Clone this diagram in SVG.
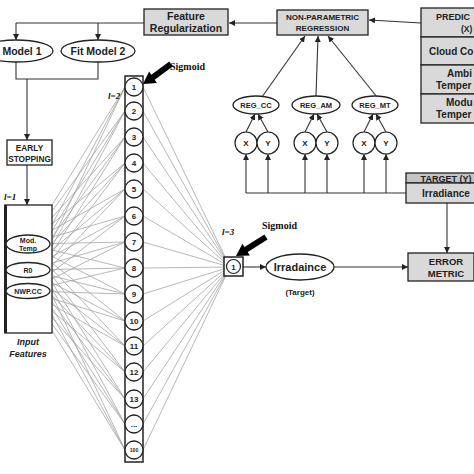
<svg xmlns="http://www.w3.org/2000/svg" width="474" height="474" viewBox="0 0 474 474">
<style>
.t{font-family:"Liberation Sans",Arial,sans-serif;font-weight:bold;fill:#222;text-anchor:middle}
.ts{font-family:"Liberation Sans",Arial,sans-serif;font-weight:bold;fill:#222;text-anchor:start}
.s{font-family:"Liberation Serif","Times New Roman",serif;font-weight:bold;fill:#111}
.box{fill:#d9d9d9;stroke:#222;stroke-width:1.3}
.wbox{fill:#fff;stroke:#222;stroke-width:1.3}
.el{fill:#fff;stroke:#222;stroke-width:1.3}
.c{fill:none;stroke:#333;stroke-width:1.1}
.ca{fill:none;stroke:#333;stroke-width:1.1;marker-end:url(#ah)}
.e{stroke:#a0a0a0;stroke-width:0.75}
</style>
<defs>
<marker id="ah" markerUnits="userSpaceOnUse" markerWidth="7" markerHeight="7" refX="6" refY="3" orient="auto">
<path d="M0,0 L6,3 L0,6 z" fill="#222"/>
</marker>
</defs>
<rect width="474" height="474" fill="#fff"/>

<g id="nn-edges">
<line class="e" x1="28" y1="244" x2="125" y2="87"/><line class="e" x1="28" y1="244" x2="125" y2="111"/><line class="e" x1="28" y1="244" x2="125" y2="137"/><line class="e" x1="28" y1="244" x2="125" y2="163"/><line class="e" x1="28" y1="244" x2="125" y2="189"/><line class="e" x1="28" y1="244" x2="125" y2="216"/><line class="e" x1="28" y1="244" x2="125" y2="242"/><line class="e" x1="28" y1="244" x2="125" y2="268"/><line class="e" x1="28" y1="244" x2="125" y2="294"/><line class="e" x1="28" y1="244" x2="125" y2="321"/><line class="e" x1="28" y1="244" x2="125" y2="346"/><line class="e" x1="28" y1="244" x2="125" y2="372"/><line class="e" x1="28" y1="244" x2="125" y2="399"/><line class="e" x1="28" y1="244" x2="125" y2="424"/><line class="e" x1="28" y1="244" x2="125" y2="450"/>
<line class="e" x1="28" y1="270" x2="125" y2="87"/><line class="e" x1="28" y1="270" x2="125" y2="111"/><line class="e" x1="28" y1="270" x2="125" y2="137"/><line class="e" x1="28" y1="270" x2="125" y2="163"/><line class="e" x1="28" y1="270" x2="125" y2="189"/><line class="e" x1="28" y1="270" x2="125" y2="216"/><line class="e" x1="28" y1="270" x2="125" y2="242"/><line class="e" x1="28" y1="270" x2="125" y2="268"/><line class="e" x1="28" y1="270" x2="125" y2="294"/><line class="e" x1="28" y1="270" x2="125" y2="321"/><line class="e" x1="28" y1="270" x2="125" y2="346"/><line class="e" x1="28" y1="270" x2="125" y2="372"/><line class="e" x1="28" y1="270" x2="125" y2="399"/><line class="e" x1="28" y1="270" x2="125" y2="424"/><line class="e" x1="28" y1="270" x2="125" y2="450"/>
<line class="e" x1="28" y1="291" x2="125" y2="87"/><line class="e" x1="28" y1="291" x2="125" y2="111"/><line class="e" x1="28" y1="291" x2="125" y2="137"/><line class="e" x1="28" y1="291" x2="125" y2="163"/><line class="e" x1="28" y1="291" x2="125" y2="189"/><line class="e" x1="28" y1="291" x2="125" y2="216"/><line class="e" x1="28" y1="291" x2="125" y2="242"/><line class="e" x1="28" y1="291" x2="125" y2="268"/><line class="e" x1="28" y1="291" x2="125" y2="294"/><line class="e" x1="28" y1="291" x2="125" y2="321"/><line class="e" x1="28" y1="291" x2="125" y2="346"/><line class="e" x1="28" y1="291" x2="125" y2="372"/><line class="e" x1="28" y1="291" x2="125" y2="399"/><line class="e" x1="28" y1="291" x2="125" y2="424"/><line class="e" x1="28" y1="291" x2="125" y2="450"/>
<line class="e" x1="143" y1="87" x2="230" y2="267"/><line class="e" x1="143" y1="111" x2="230" y2="267"/><line class="e" x1="143" y1="137" x2="230" y2="267"/><line class="e" x1="143" y1="163" x2="230" y2="267"/><line class="e" x1="143" y1="189" x2="230" y2="267"/><line class="e" x1="143" y1="216" x2="230" y2="267"/><line class="e" x1="143" y1="242" x2="230" y2="267"/><line class="e" x1="143" y1="268" x2="230" y2="267"/><line class="e" x1="143" y1="294" x2="230" y2="267"/><line class="e" x1="143" y1="321" x2="230" y2="267"/><line class="e" x1="143" y1="346" x2="230" y2="267"/><line class="e" x1="143" y1="372" x2="230" y2="267"/><line class="e" x1="143" y1="399" x2="230" y2="267"/><line class="e" x1="143" y1="424" x2="230" y2="267"/><line class="e" x1="143" y1="450" x2="230" y2="267"/>
</g>

<g id="connectors">
<polyline class="c" points="144,23 16,23"/>
<line class="ca" x1="16" y1="23" x2="16" y2="40"/>
<line class="ca" x1="98" y1="23" x2="98" y2="40"/>
<polyline class="c" points="16,62 16,79 98,79 98,62"/>
<line class="ca" x1="27" y1="79" x2="27" y2="140"/>
<line class="ca" x1="27" y1="165" x2="27" y2="205"/>
<line class="ca" x1="277" y1="23" x2="229" y2="23"/>
<line class="ca" x1="421" y1="23" x2="369" y2="20"/>
<line class="ca" x1="262" y1="97" x2="305" y2="36"/>
<line class="ca" x1="316" y1="96" x2="318" y2="36"/>
<line class="ca" x1="377" y1="97" x2="328" y2="36"/>
<line class="ca" x1="246" y1="132" x2="255" y2="114"/>
<line class="ca" x1="268" y1="132" x2="258" y2="114"/>
<line class="ca" x1="305" y1="132" x2="314" y2="114"/>
<line class="ca" x1="327" y1="132" x2="317" y2="114"/>
<line class="ca" x1="364" y1="132" x2="373" y2="114"/>
<line class="ca" x1="386" y1="132" x2="376" y2="114"/>
<polyline class="c" points="406,193 246,193"/>
<line class="ca" x1="246" y1="193" x2="246" y2="154"/>
<line class="ca" x1="268" y1="193" x2="268" y2="154"/>
<line class="ca" x1="305" y1="193" x2="305" y2="154"/>
<line class="ca" x1="327" y1="193" x2="327" y2="154"/>
<line class="ca" x1="364" y1="193" x2="364" y2="154"/>
<line class="ca" x1="386" y1="193" x2="386" y2="154"/>
<line class="ca" x1="447" y1="203" x2="447" y2="253"/>
<line class="ca" x1="243" y1="267" x2="266" y2="267"/>
<line class="ca" x1="334" y1="267" x2="408" y2="267"/>
</g>

<g id="feature-regularization">
<rect class="box" x="144" y="9" width="84" height="26"/>
<text class="t" x="186" y="20" font-size="10.5">Feature</text>
<text class="t" x="186" y="32" font-size="10.5">Regularization</text>
</g>
<g id="model1">
<ellipse class="el" cx="16" cy="51" rx="37" ry="11"/>
<text class="t" x="22" y="55" font-size="10.5">Model 1</text>
</g>
<g id="fit-model2">
<ellipse class="el" cx="98" cy="51" rx="37" ry="11"/>
<text class="t" x="98" y="55" font-size="10.5">Fit Model 2</text>
</g>
<g id="early-stopping">
<rect class="wbox" x="7" y="140" width="45" height="25"/>
<text class="t" x="29.5" y="151" font-size="8.3">EARLY</text>
<text class="t" x="29.5" y="161.5" font-size="8.3">STOPPING</text>
</g>
<g id="input-features">
<text class="s" x="4" y="200" font-size="9" font-style="italic">l=1</text>
<rect class="wbox" x="5" y="205" width="47" height="128"/>
<line x1="5.5" y1="205" x2="5.5" y2="333" stroke="#222" stroke-width="3"/>
<ellipse class="el" cx="28" cy="244" rx="22" ry="9"/>
<text class="t" x="28" y="243" font-size="7">Mod.</text>
<text class="t" x="28" y="251" font-size="7">Temp</text>
<ellipse class="el" cx="28" cy="270" rx="22" ry="7.5"/>
<text class="t" x="28" y="272.5" font-size="7">R0</text>
<ellipse class="el" cx="28" cy="291" rx="22" ry="7.5"/>
<text class="t" x="28" y="293.5" font-size="7">NWP.CC</text>
<text class="t" x="28" y="345" font-size="9" font-style="italic">Input</text>
<text class="t" x="28" y="357" font-size="9" font-style="italic">Features</text>
</g>

<g id="hidden-layer">
<rect x="125" y="76" width="18" height="386" fill="#fff" stroke="#222" stroke-width="1.5"/>
<g fill="#fff" stroke="#222" stroke-width="1.3">
<circle cx="134" cy="87" r="9"/><circle cx="134" cy="111" r="9"/><circle cx="134" cy="137" r="9"/><circle cx="134" cy="163" r="9"/><circle cx="134" cy="189" r="9"/><circle cx="134" cy="216" r="9"/><circle cx="134" cy="242" r="9"/><circle cx="134" cy="268" r="9"/><circle cx="134" cy="294" r="9"/><circle cx="134" cy="321" r="9"/><circle cx="134" cy="346" r="9"/><circle cx="134" cy="372" r="9"/><circle cx="134" cy="399" r="9"/><circle cx="134" cy="424" r="9"/><circle cx="134" cy="450" r="9"/>
</g>
<g font-size="8">
<text class="t" x="134" y="90">1</text><text class="t" x="134" y="114">2</text><text class="t" x="134" y="140">3</text><text class="t" x="134" y="166">4</text><text class="t" x="134" y="192">5</text><text class="t" x="134" y="219">6</text><text class="t" x="134" y="245">7</text><text class="t" x="134" y="271">8</text><text class="t" x="134" y="297">9</text><text class="t" x="134" y="324">10</text><text class="t" x="134" y="349">11</text><text class="t" x="134" y="375">12</text><text class="t" x="134" y="402">13</text><text class="t" x="134" y="427">...</text><text class="t" x="134" y="452" font-size="5">100</text>
</g>
<text class="s" x="108" y="99" font-size="9" font-style="italic">l=2</text>
<text class="s" x="170" y="70" font-size="10">Sigmoid</text>
<polygon points="169.3,61.5 151.3,74.8 149.1,71.5 143,84 156.9,83.1 154.7,79.8 172.7,66.5" fill="#000"/>
</g>

<g id="output-neuron">
<rect x="224" y="257" width="19" height="19" fill="#fff" stroke="#222" stroke-width="1.5"/>
<circle cx="233.5" cy="266.5" r="7" fill="#fff" stroke="#222" stroke-width="1.2"/>
<text class="t" x="233.5" y="269.5" font-size="8">1</text>
<text class="s" x="222" y="235" font-size="9" font-style="italic">l=3</text>
<text class="s" x="262" y="229" font-size="10">Sigmoid</text>
<polygon points="264.4,234.5 244.5,247.1 242.4,243.7 236,256 249.8,255.5 247.7,252.1 267.6,239.5" fill="#000"/>
</g>

<g id="irradiance-target">
<ellipse class="el" cx="300" cy="267" rx="34" ry="13"/>
<text class="t" x="300" y="271" font-size="11">Irradaince</text>
<text class="t" x="300" y="295" font-size="8">(Target)</text>
</g>

<g id="error-metric">
<rect class="box" x="408" y="253" width="66" height="28"/>
<text class="t" x="446" y="265" font-size="9.5">ERROR</text>
<text class="t" x="446" y="277" font-size="9.5">METRIC</text>
</g>

<g id="target-y">
<rect x="406" y="173" width="82" height="10" fill="#c4c4c4" stroke="#222" stroke-width="1.3"/>
<rect class="box" x="406" y="183" width="82" height="20"/>
<text class="t" x="446" y="181.5" font-size="9">TARGET (Y)</text>
<text class="t" x="446" y="197" font-size="10">Irradiance</text>
</g>

<g id="predictors">
<rect class="box" x="421" y="8" width="100" height="29"/>
<rect class="box" x="421" y="37" width="100" height="28"/>
<rect class="box" x="421" y="65" width="100" height="29"/>
<rect class="box" x="421" y="94" width="100" height="29"/>
<text class="ts" x="436" y="20" font-size="9">PREDIC</text>
<text class="ts" x="461" y="32" font-size="8.5">(X)</text>
<text class="ts" x="429" y="55" font-size="10">Cloud Co</text>
<text class="ts" x="447" y="77" font-size="10">Ambi</text>
<text class="ts" x="436" y="89" font-size="10">Temper</text>
<text class="ts" x="446" y="106" font-size="10">Modu</text>
<text class="ts" x="436" y="118" font-size="10">Temper</text>
</g>

<g id="non-parametric-regression">
<rect class="box" x="277" y="10" width="91" height="25"/>
<text class="t" x="322.5" y="20" font-size="8">NON-PARAMETRIC</text>
<text class="t" x="322.5" y="31" font-size="8">REGRESSION</text>
</g>

<g id="reg-cc">
<ellipse class="el" cx="256" cy="105" rx="23" ry="9"/>
<text class="t" x="256" y="108" font-size="7.5">REG_CC</text>
</g>
<g id="reg-am">
<ellipse class="el" cx="316" cy="105" rx="24" ry="9"/>
<text class="t" x="316" y="108" font-size="7.5">REG_AM</text>
</g>
<g id="reg-mt">
<ellipse class="el" cx="375" cy="105" rx="23" ry="9"/>
<text class="t" x="375" y="108" font-size="7.5">REG_MT</text>
</g>

<g id="xy-nodes">
<g fill="#fff" stroke="#222" stroke-width="1.2">
<circle cx="246" cy="143" r="11"/><circle cx="268" cy="143" r="11"/>
<circle cx="305" cy="143" r="11"/><circle cx="327" cy="143" r="11"/>
<circle cx="364" cy="143" r="11"/><circle cx="386" cy="143" r="11"/>
</g>
<text class="t" x="246" y="146" font-size="8">X</text><text class="t" x="268" y="146" font-size="8">Y</text>
<text class="t" x="305" y="146" font-size="8">X</text><text class="t" x="327" y="146" font-size="8">Y</text>
<text class="t" x="364" y="146" font-size="8">X</text><text class="t" x="386" y="146" font-size="8">Y</text>
</g>
</svg>
